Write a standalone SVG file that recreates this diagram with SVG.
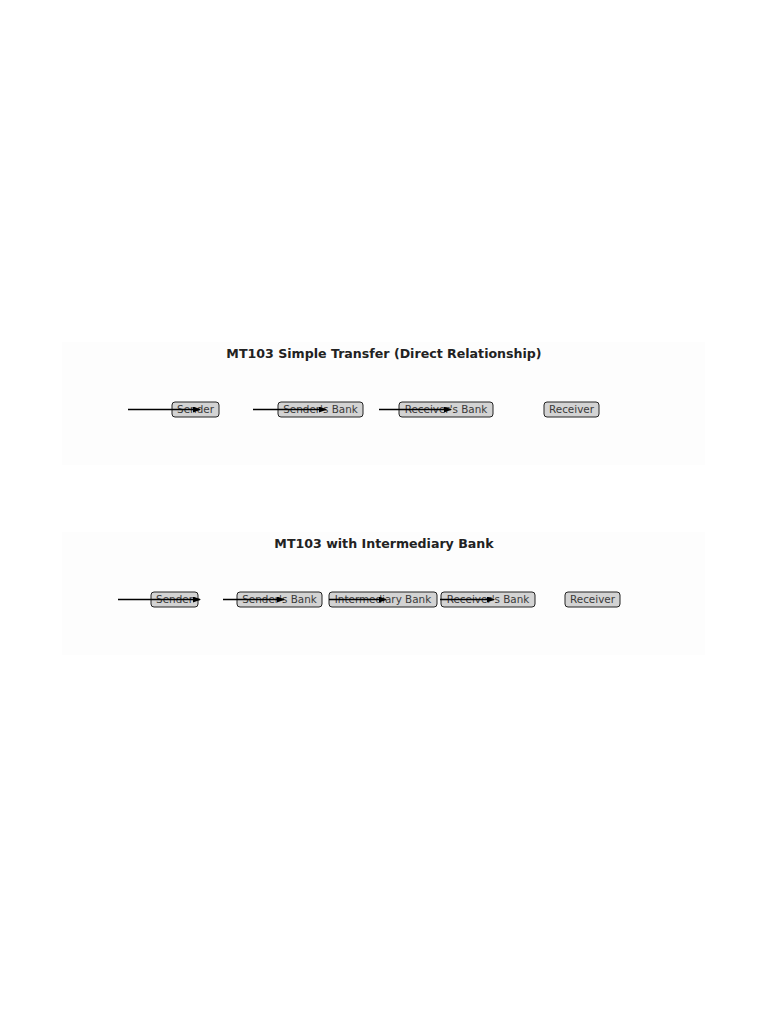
<svg xmlns="http://www.w3.org/2000/svg" width="768" height="1024" viewBox="0 0 768 1024">
<defs>
<marker id="ah" markerWidth="8" markerHeight="6" refX="7" refY="3" orient="auto" markerUnits="userSpaceOnUse">
<path d="M0,0 L8,3 L0,6 Z" fill="#000"/>
</marker>
<style>
.panel{fill:#fdfdfd;stroke:none}
.title{font-family:"DejaVu Sans",sans-serif;font-size:12.6px;font-weight:bold;fill:#222;text-anchor:middle}
.box{fill:#d3d3d3;stroke:#222;stroke-width:1}
.lbl{font-family:"DejaVu Sans",sans-serif;font-size:10.4px;fill:#3a3a3a;text-anchor:middle;dominant-baseline:central}
.edge{stroke:#000;stroke-width:1.4;fill:none;marker-end:url(#ah)}
</style>
</defs>
<rect width="768" height="1024" fill="#fff"/>
<rect class="panel" x="62" y="342" width="643" height="123"/>
<rect class="panel" x="62" y="532" width="643" height="123"/>
<text class="title" x="384" y="358">MT103 Simple Transfer (Direct Relationship)</text>
<text class="title" x="384" y="548">MT103 with Intermediary Bank</text>

<g id="d1-sender"><rect class="box" x="172" y="402" width="47" height="15" rx="3"/><text class="lbl" x="195.5" y="409">Sender</text></g>
<g id="d1-senders-bank"><rect class="box" x="278" y="402" width="85" height="15" rx="3"/><text class="lbl" x="320.5" y="409">Sender's Bank</text></g>
<g id="d1-receivers-bank"><rect class="box" x="399" y="402" width="94" height="15" rx="3"/><text class="lbl" x="446" y="409">Receiver's Bank</text></g>
<g id="d1-receiver"><rect class="box" x="544" y="402" width="55" height="15" rx="3"/><text class="lbl" x="571.5" y="409">Receiver</text></g>

<g id="d2-sender"><rect class="box" x="151" y="592" width="47" height="15" rx="3"/><text class="lbl" x="174.5" y="599">Sender</text></g>
<g id="d2-senders-bank"><rect class="box" x="237" y="592" width="85" height="15" rx="3"/><text class="lbl" x="279.5" y="599">Sender's Bank</text></g>
<g id="d2-intermediary-bank"><rect class="box" x="329" y="592" width="108" height="15" rx="3"/><text class="lbl" x="383" y="599">Intermediary Bank</text></g>
<g id="d2-receivers-bank"><rect class="box" x="441" y="592" width="94" height="15" rx="3"/><text class="lbl" x="488" y="599">Receiver's Bank</text></g>
<g id="d2-receiver"><rect class="box" x="565" y="592" width="55" height="15" rx="3"/><text class="lbl" x="592.5" y="599">Receiver</text></g>

<g id="connectors">
<line class="edge" x1="128" y1="409.5" x2="200" y2="409.5"/>
<line class="edge" x1="253" y1="409.5" x2="326" y2="409.5"/>
<line class="edge" x1="379" y1="409.5" x2="451" y2="409.5"/>
<line class="edge" x1="118" y1="599.5" x2="200" y2="599.5"/>
<line class="edge" x1="223" y1="599.5" x2="284" y2="599.5"/>
<line class="edge" x1="329" y1="599.5" x2="386" y2="599.5"/>
<line class="edge" x1="440" y1="599.5" x2="494" y2="599.5"/>
</g>
</svg>
